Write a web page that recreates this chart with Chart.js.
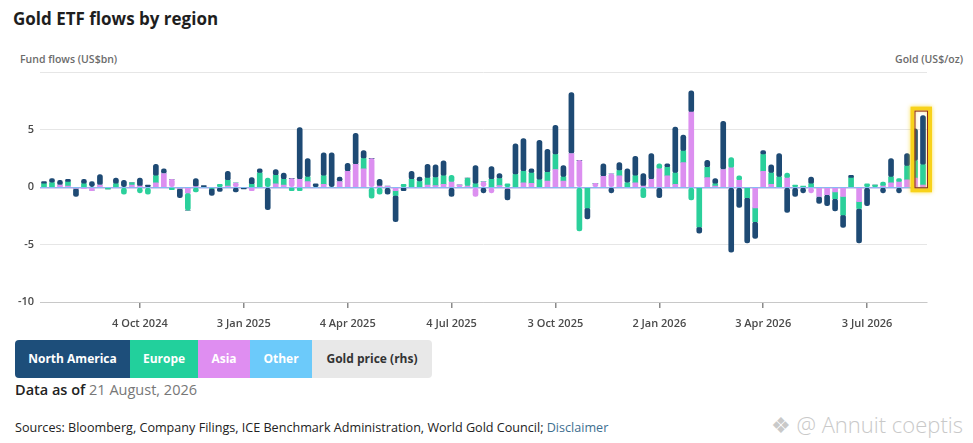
<!DOCTYPE html>
<html>
<head>
<meta charset="utf-8">
<script src="https://cdn.jsdelivr.net/npm/chart.js@4.4.1/dist/chart.umd.min.js"></script>
<style>
  html, body { margin: 0; padding: 0; background: #fff; }
  body { width: 973px; height: 443px; position: relative; overflow: hidden; font-family: "Open Sans", "Noto Sans", sans-serif; }
  #title { position: absolute; left: 13px; top: 7px; font-size: 17px; font-weight: 700; color: #1e1e1e; }
  .axt { position: absolute; top: 52px; font-size: 10.5px; font-weight: 600; color: #6b6b6b; }
  #wrap { position: absolute; left: 0; top: 60px; width: 973px; height: 276px; }
  #legend { position: absolute; left: 15px; top: 340px; height: 38px; display: flex; border-radius: 4px; overflow: hidden; }
  #legend div { height: 38px; line-height: 38px; font-size: 12px; font-weight: 700; color: #fff; text-align: center; }
  #asof { position: absolute; left: 15px; top: 380px; font-size: 14.5px; color: #222; }
  #asof span { color: #777; }
  #src { position: absolute; left: 15px; top: 419px; font-size: 12.6px; color: #222; }
  #src a { color: #3d6e8f; text-decoration: none; }
  #wm { position: absolute; right: 10px; top: 409px; font-size: 22px; font-weight: 300; color: #c9c9c9; }
</style>
</head>
<body>
<div id="title">Gold ETF flows by region</div>
<div class="axt" style="left:20px;">Fund flows (US$bn)</div>
<div class="axt" style="right:10px;">Gold (US$/oz)</div>
<div id="wrap"><canvas id="c"></canvas></div>
<div id="legend">
  <div style="width:115px;background:#1d4e7a;">North America</div>
  <div style="width:68px;background:#22d09c;">Europe</div>
  <div style="width:52px;background:#df8ef1;">Asia</div>
  <div style="width:62px;background:#6ccafa;">Other</div>
  <div style="width:120px;background:#e8e8e8;color:#333;">Gold price (rhs)</div>
</div>
<div id="asof"><b style="font-weight:600">Data as of</b> <span>21 August, 2026</span></div>
<div id="src">Sources: Bloomberg, Company Filings, ICE Benchmark Administration, World Gold Council; <a href="#">Disclaimer</a></div>
<div id="wm">&#x2756; @ Annuit coeptis</div>
<script>
// ---- data (weekly fund flows, US$bn) ----
const firstWeek = '2024-07-12';
const weekCount = 111;
const tickLabels = ['4 Oct 2024', '3 Jan 2025', '4 Apr 2025', '4 Jul 2025', '3 Oct 2025', '2 Jan 2026', '3 Apr 2026', '3 Jul 2026'];
const yTicks = [-10, -5, 0, 5];

const northAmerica = [
  0.2, 0.35, 0.4, 0.25, -0.7, 0.4, 0.5, 0.9, 0, 0.5,
  0.6, 0, 0.7, 0.2, 1.0, 0.4, 0, -0.8, 0, 0.7,
  0.15, -0.6, -0.35, 0.8, -0.4, -0.15, 0.6, 0.35, -1.95, 0.5,
  0.55, 0, 4.5, 1.6, 0.3, 2.0, 3.0, 0.4, 0.7, 2.7,
  0.7, 0, 0.6, -0.6, -2.3, -0.3, 0.7, 0.4, 1.2, 1.1,
  1.3, -0.8, 0, 0, 1.6, -0.5, 1.1, 0.45, -1.0, 2.7,
  2.85, 0.35, 3.45, 2.0, 2.55, 1.0, 5.3, 0, -0.95, 0,
  1.1, -0.5, 0.7, 1.2, 1.7, 1.1, 2.25, -0.9, 0.3, 4.0,
  1.4, 1.85, -0.55, 0.6, 0.45, 4.2, -5.65, -1.75, -3.95, -1.45,
  0.35, 0.7, 2.05, -2.2, -0.8, -0.5, 0.6, -0.6, -0.95, -1.05,
  -1.1, 0.25, -3.0, -1.6, 0, -0.5, 1.6, -0.5, 1.1, 2.8,
  4.3
];
const europe = [
  0.3, 0.4, 0, 0.35, 0, 0.3, 0, 0, -0.15, 0.3,
  -0.6, 0.2, -0.5, -0.6, 0.6, 0, -0.2, 0, -1.5, -0.4,
  0, -0.1, 0.25, 0.5, 0, 0, 0.25, 1.25, 0.8, 0.75,
  0.5, -0.3, -0.3, 0.4, 0, 0.75, 0, 0, 0, 0,
  0.9, -0.95, -0.6, 0, -0.4, 0.25, 0.7, 0.5, 0.6, 0.7,
  0.75, 0.6, 0, 0.7, 0.3, 0, 0.7, 0.6, 0.3, 1.1,
  1.0, 0.9, 0.65, 0.75, 1.3, 0.35, 0, -3.8, -1.8, 0,
  0, 0, 0.45, 0.4, 0.6, -0.9, 0, 0.45, 0.75, 1.0,
  1.0, -1.1, -3.45, 0.9, 0.2, 0, 0.9, 0.4, -0.9, -1.2,
  1.45, 1.0, 0.9, 0.45, 0.2, 0.1, 0.3, 0, 0, -0.6,
  -1.6, 0.8, -0.6, 0.3, 0.2, 0.35, 0.5, 0.3, 1.2, 1.5,
  1.75
];
const asia = [
  0, 0, 0.2, 0.1, -0.1, -0.1, -0.3, 0.2, 0, 0,
  0, 0.2, 0.1, 0, 0.4, 1.2, 0.7, -0.1, -0.5, 0.05,
  0, 0, 0, 0.1, 0.4, 0, -0.3, 0, 0, 0.3,
  0.2, 0.75, 0.7, 0.5, 0, 0.25, 0, 0.5, 1.4, 2.0,
  1.6, 2.5, 0.1, 0.1, -0.3, 0, 0, 0, 0.2, 0.15,
  0.25, 0.45, 0.2, 0.1, -0.8, 0.5, -0.5, 0.15, -0.1, 0,
  0.4, 0.35, 0, 0.55, 1.55, 0.55, 2.95, 2.35, 0, 0.35,
  0.95, 1.2, 1.0, 0, 0.4, 0.1, 0.7, 1.6, 1.0, 0.25,
  2.15, 6.55, 0, 0.85, 0.1, 1.55, 1.7, 0.6, 0, -1.8,
  1.4, 0.25, 0, 0.8, 0, 0, -0.5, -0.8, -0.65, -0.4,
  -0.8, 0, -1.25, 0, 0, 0.1, 0.4, 0.45, 0.65, 0.8,
  0.2
];
const other = [
  0, 0, 0, 0, 0, 0, 0, 0, 0, 0,
  0, 0, 0, 0, 0, 0, 0, 0, 0, 0,
  0, 0, 0, 0, 0, 0, 0, 0, 0, 0,
  0, 0, 0, 0, 0, 0, 0, 0, 0, 0,
  0, 0, 0, 0, 0, 0, 0, 0, 0, 0,
  0, 0, 0, 0, 0, 0, 0, 0, 0, 0,
  0, 0, 0, 0, 0, 0, 0, 0, 0, 0,
  0, 0, 0, 0, 0, 0, 0, 0, 0, 0,
  0, 0, 0, 0, 0, 0, 0, 0, 0, 0,
  0, 0, 0, 0, 0, 0, 0, 0, 0, 0,
  0, 0, 0, 0, 0, 0, 0, 0, 0, 0,
  0
];
const highlightIndex = 110;

// ---- category labels (weekly Fridays) ----
const MONTHS = ['Jan','Feb','Mar','Apr','May','Jun','Jul','Aug','Sep','Oct','Nov','Dec'];
const weeks = [];
{
  const d0 = new Date(firstWeek + 'T00:00:00Z');
  for (let i = 0; i < weekCount; i++) {
    const d = new Date(d0.getTime() + i * 7 * 86400000);
    weeks.push(d.getUTCDate() + ' ' + MONTHS[d.getUTCMonth()] + ' ' + d.getUTCFullYear());
  }
}

const COLORS = { na: '#1e4a74', eu: '#2bd09b', asia: '#dc8ff0', other: '#6ccafa' };

const highlightPlugin = {
  id: 'highlight',
  afterDatasetsDraw(chart) {
    const xs = chart.scales.x, ys = chart.scales.y, ctx = chart.ctx;
    const i = highlightIndex;
    const pos = [northAmerica[i], europe[i], asia[i], other[i]].filter(v => v > 0).reduce((a, b) => a + b, 0);
    const cx = xs.getPixelForValue(i);
    const top = ys.getPixelForValue(pos) - 7;
    const bot = ys.getPixelForValue(0) + 3;
    const l = cx - 10.5, r = cx + 7;
    ctx.save();
    ctx.shadowColor = 'rgba(250,210,0,0.7)';
    ctx.shadowBlur = 4;
    ctx.strokeStyle = '#f8d21a';
    ctx.lineWidth = 4;
    ctx.strokeRect(l, top, r - l, bot - top);
    ctx.shadowBlur = 0;
    ctx.strokeStyle = '#8e2a1c';
    ctx.lineWidth = 1;
    ctx.strokeRect(l + 2.5, top + 2.5, r - l - 5, bot - top - 5);
    ctx.restore();
  }
};

const mk = (label, data, color) => ({
  label, data, backgroundColor: color, borderWidth: 0,
  barThickness: 5, borderRadius: 2.5, borderSkipped: false, stack: 's'
});

new Chart(document.getElementById('c'), {
  type: 'bar',
  data: {
    labels: weeks,
    datasets: [
      mk('Other', other, COLORS.other),
      mk('Asia', asia, COLORS.asia),
      mk('Europe', europe, COLORS.eu),
      mk('North America', northAmerica, COLORS.na)
    ]
  },
  options: {
    responsive: true,
    maintainAspectRatio: false,
    animation: false,
    devicePixelRatio: 1,
    layout: { padding: { top: 0, right: 46, left: 0, bottom: 0 } },
    plugins: { legend: { display: false }, tooltip: { enabled: false } },
    scales: {
      x: {
        type: 'category',
        stacked: true,
        offset: true,
        afterFit(s) { s.height = 34; },
        border: { display: true, color: '#c8c8c8', width: 1 },
        grid: {
          offset: false,
          drawOnChartArea: false,
          drawTicks: true,
          tickLength: 6,
          lineWidth: 1.5,
          color: (c) => (c.tick && tickLabels.includes(weeks[c.tick.value])) ? '#8a8a8a' : 'rgba(0,0,0,0)'
        },
        ticks: {
          autoSkip: false,
          maxRotation: 0,
          padding: 9,
          color: '#4a4a4a',
          font: { family: 'Open Sans', size: 11, weight: '600' },
          callback(v) { const l = weeks[v]; return tickLabels.includes(l) ? l : ''; }
        }
      },
      y: {
        stacked: true,
        min: -10,
        max: 10,
        afterFit(s) { s.width = 40; },
        afterBuildTicks(s) { s.ticks = [-10, -5, 0, 5, 10].map(v => ({ value: v })); },
        border: { display: false },
        grid: {
          drawTicks: false,
          lineWidth: (c) => c.tick && c.tick.value === 0 ? 1.5 : 1,
          color: (c) => {
            if (!c.tick) return '#e6e6e6';
            if (c.tick.value === 0) return '#a9a7e6';
            if (c.tick.value === -10) return '#c8c8c8';
            return '#e6e6e6';
          }
        },
        ticks: {
          padding: 6,
          color: '#4a4a4a',
          font: { family: 'Open Sans', size: 11, weight: '600' },
          callback(v) { return yTicks.includes(v) ? String(v) : ''; }
        }
      }
    }
  },
  plugins: [highlightPlugin]
});
</script>
</body>
</html>
